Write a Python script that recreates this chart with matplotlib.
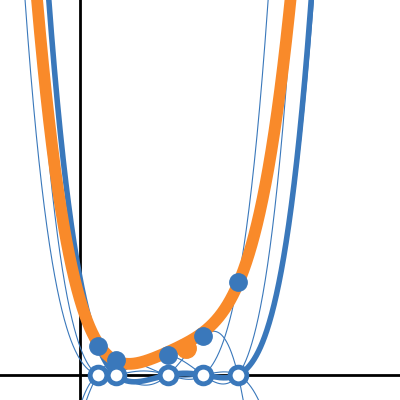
import numpy as np
import matplotlib
matplotlib.use("Agg")
from matplotlib import pyplot as plt

# interpolation nodes and values
nodes = [1.8, 3.6, 8.8, 12.3, 15.8]
values = [2.9, 1.5, 2.0, 3.9, 9.3]

# orange curve points
orange_x = [-4.5, 1.8, 6.0, 10.6, 15.8, 21.3]
orange_y = [40.0, 2.9, 1.8, 2.7, 9.3, 40.0]
orange_dot = (10.6, 2.7)

# thick blue curve points
blue_x = [-3.3, 1.8, 3.6, 8.8, 12.3, 15.8, 23.3]
blue_y = [40.0, 2.9, 0.0, 0.0, 0.0, 0.0, 40.0]

BLUE = "#3a78bb"
ORANGE = "#f98a2a"

fig = plt.figure(figsize=(4, 4), dpi=100)
ax = fig.add_axes([0, 0, 1, 1])
ax.set_xlim(-8, 32)
ax.set_ylim(-2.5, 37.5)
ax.axis("off")
ax.axhline(0, color="black", lw=2, zorder=1)
ax.axvline(0, color="black", lw=2, zorder=1)

xs = np.linspace(-8, 32, 1500)

# thin basis curves
for i, (xi, yi) in enumerate(zip(nodes, values)):
    L = np.ones_like(xs)
    for j, xj in enumerate(nodes):
        if j != i:
            L *= (xs - xj) / (xi - xj)
    ax.plot(xs, yi * L, color=BLUE, lw=0.8, zorder=2)

cb = np.polyfit(blue_x, blue_y, len(blue_x) - 1)
ax.plot(xs, np.polyval(cb, xs), color=BLUE, lw=4, zorder=3)

co = np.polyfit(orange_x, orange_y, 4)
ax.plot(xs, np.polyval(co, xs), color=ORANGE, lw=8.5, zorder=4)
ax.plot(*orange_dot, "o", color=ORANGE, ms=14, zorder=5)

ax.plot(nodes, values, "o", color=BLUE, ms=12.5, zorder=6)
ax.plot(nodes, [0] * len(nodes), "o", mfc="white", mec=BLUE, mew=3.5, ms=12, zorder=6)

fig.savefig("out.png")
